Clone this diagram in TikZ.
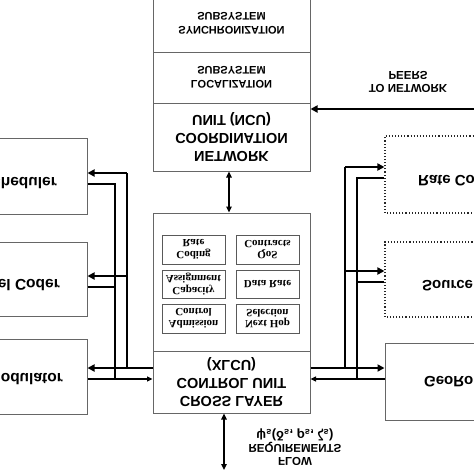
\documentclass[tikz,border=0pt]{standalone}
\usepackage{fontspec}
\setmainfont{Liberation Serif}
\newfontfamily\arialf{Liberation Sans}
\usetikzlibrary{arrows.meta}
\begin{document}
\begin{tikzpicture}[x=1pt,y=1pt,
  box/.style={draw=black!60, line width=1pt, fill=white, inner sep=0pt, align=center},
  dbox/.style={box, draw=black!85, line width=1.1pt, dotted},
  ibox/.style={box, draw=black!65, minimum width=63, font=\bfseries\fontsize{11}{11.5}\selectfont},
  caplbl/.style={font=\arialf\bfseries\fontsize{11.5}{13}\selectfont, align=center, inner sep=0pt},
  ttl/.style={font=\arialf\bfseries\fontsize{14.5}{18}\selectfont},
  bigtxt/.style={font=\arialf\bfseries\fontsize{15}{18}\selectfont, inner sep=0pt},
  lefttxt/.style={font=\arialf\bfseries\fontsize{15.5}{18}\selectfont, inner sep=0pt},
  thk/.style={line width=2.4pt},
  thka/.style={thk, -{Triangle[length=7pt,width=7pt]}},
  thn/.style={line width=1.3pt},
  thna/.style={thn, -{Triangle[length=5.5pt,width=5pt]}},
  dbl/.style={line width=2pt, {Triangle[length=6pt,width=5.5pt]}-{Triangle[length=6pt,width=5.5pt]}},
]
\begin{scope}[yscale=-1, transform shape]
\useasboundingbox (0,0) rectangle (474,474);
\clip (0,0) rectangle (474,474);
\fill[white] (0,0) rectangle (474,474);

% Network coordination unit
\node[box, caplbl, font=\arialf\bfseries\fontsize{11}{14.5}\selectfont, minimum width=157, minimum height=57] (sync) at (231.5,23.5) {SYNCHRONIZATION\\SUBSYSTEM};
\node[box, caplbl, font=\arialf\bfseries\fontsize{11}{14.5}\selectfont, minimum width=157, minimum height=51] (loc) at (231.5,77.5) {LOCALIZATION\\SUBSYSTEM};
\node[box, ttl, minimum width=157, minimum height=68] (ncu) at (231.5,137) {NETWORK\\COORDINATION\\UNIT (NCU)};

% Cross layer control unit
\node[box, minimum width=157, minimum height=138] (xlcuin) at (231.5,282) {};
\node[box, ttl, minimum width=157, minimum height=62] (xlcu) at (231.5,382) {CROSS LAYER\\CONTROL UNIT\\(XLCU)};

\node[ibox, minimum height=29] (cod) at (193.5,249.5) {Coding\\Rate};
\node[ibox, minimum height=29] (qos) at (267.5,249.5) {QoS\\Contracts};
\node[ibox, minimum height=28] (capa) at (193.5,284) {Capacity\\Assignment};
\node[ibox, minimum height=28] (dr) at (267.5,284) {Data Rate};
\node[ibox, minimum height=29] (adm) at (193.5,318.5) {Admission\\Control};
\node[ibox, minimum height=29] (nh) at (267.5,318.5) {Next Hop\\Selection};

% left blocks
\node[box, minimum width=97, minimum height=76] (sched) at (38.5,176) {};
\node[box, minimum width=97, minimum height=74] (chan) at (38.5,279) {};
\node[box, minimum width=97, minimum height=75] (mod) at (38.5,376.5) {};
\node[lefttxt, anchor=east] (schedt) at (57,183) {Scheduler};
\node[lefttxt, anchor=east] (chant) at (60,285) {Channel Coder};
\node[lefttxt, anchor=east] (modt) at (63,379) {Modulator};

% right blocks
\node[dbox, minimum width=99, minimum height=77] (rate) at (434.5,174.5) {};
\node[dbox, minimum width=99, minimum height=75] (src) at (434.5,279.5) {};
\node[box, minimum width=99, minimum height=77] (geo) at (434.5,381.5) {};
\node[bigtxt, anchor=west] (ratet) at (418,181) {Rate Control};
\node[bigtxt, anchor=west] (srct) at (422,286) {Source Coder};
\node[bigtxt, anchor=west] (geot) at (424,380) {GeoRouting};

% labels
\node[caplbl] (peers) at (408,82) {TO NETWORK\\PEERS};
\node[caplbl, font=\arialf\bfseries\fontsize{11.5}{12.5}\selectfont] (flow) at (295,447) {FLOW\\REQUIREMENTS\\[1pt]{\fontsize{13}{14}\selectfont ψ\textsubscript{s}(δ\textsubscript{s}, ρ\textsubscript{s}, ζ\textsubscript{s})}};

% vertical links (anchors are mirrored by the flip: north is drawn at the bottom)
\draw[dbl] (ncu.north -| 229,0) -- (xlcuin.south -| 229,0);
\coordinate (flowend) at (224,470);
\draw[dbl] (xlcu.north -| 224,0) -- (flowend);
\coordinate (peer) at (480,109);
\draw[thka] (peer) -- (ncu.east |- 0,109);

% left connectors (XLCU -> blocks, thick)
\coordinate (lt1) at (127,173);
\coordinate (lt2) at (127,276);
\coordinate (lt3) at (127,368);
\draw[thka] (xlcu.west |- lt3) -- (mod.east |- lt3);
\draw[thk] (lt3) -- (lt1);
\draw[thka] (lt1) -- (sched.east |- lt1);
\draw[thka] (lt2) -- (chan.east |- lt2);
% left connectors (blocks -> XLCU, thin)
\coordinate (ln1) at (115,184);
\coordinate (ln2) at (115,287);
\coordinate (ln3) at (115,379);
\draw[thn] (sched.east |- ln1) -- (ln1) -- (ln3);
\draw[thn] (chan.east |- ln2) -- (ln2);
\draw[thna] (mod.east |- ln3) -- (xlcu.west |- ln3);

% right connectors (XLCU -> blocks, thick)
\coordinate (rt1) at (345,167);
\coordinate (rt2) at (345,271);
\coordinate (rt3) at (345,368);
\draw[thka] (xlcu.east |- rt3) -- (geo.west |- rt3);
\draw[thk] (rt3) -- (rt1);
\draw[thka] (rt1) -- (rate.west |- rt1);
\draw[thka] (rt2) -- (src.west |- rt2);
% right connectors (blocks -> XLCU, thin)
\coordinate (rn1) at (357,178);
\coordinate (rn2) at (357,282);
\coordinate (rn3) at (357,379);
\draw[thn] (rate.west |- rn1) -- (rn1) -- (rn3);
\draw[thn] (src.west |- rn2) -- (rn2);
\draw[thna] (geo.west |- rn3) -- (xlcu.east |- rn3);
\end{scope}
\end{tikzpicture}
\end{document}
